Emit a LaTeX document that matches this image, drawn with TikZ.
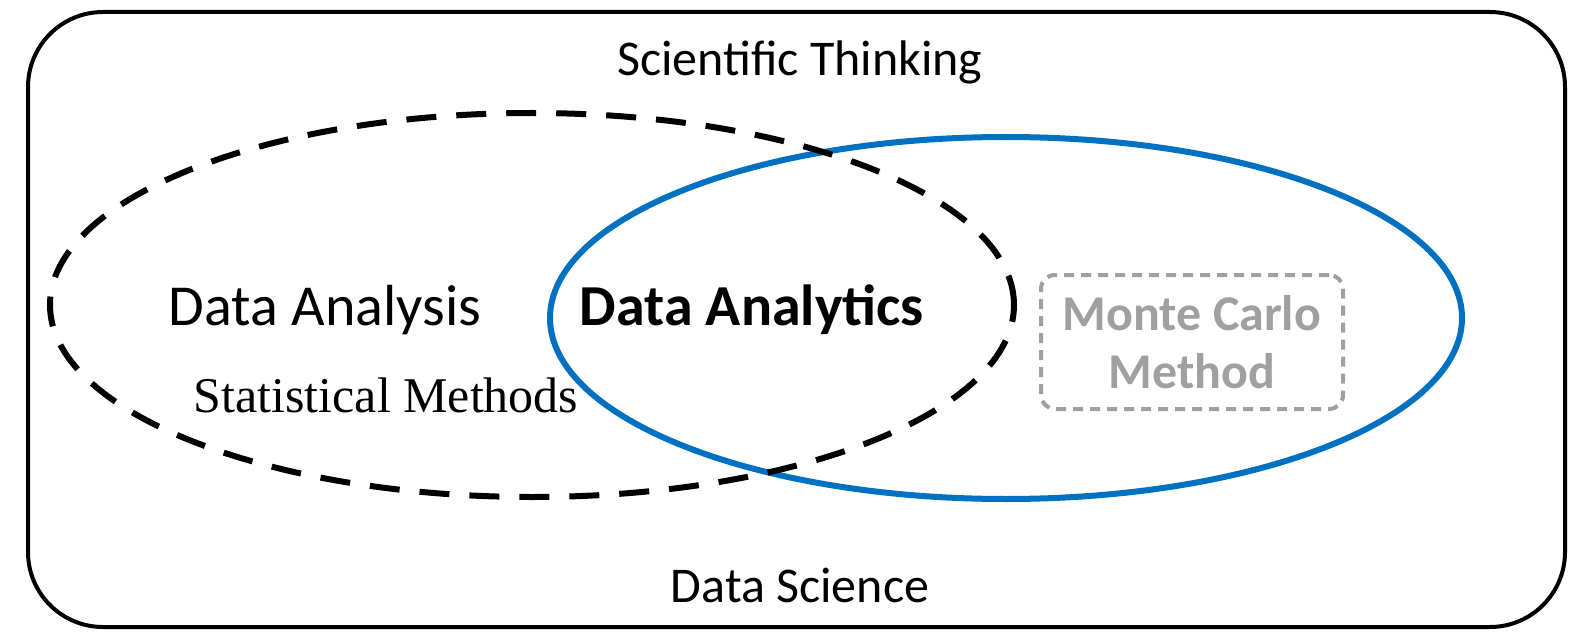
\documentclass[tikz,border=0pt]{standalone}
\usetikzlibrary{shapes.geometric}
\usepackage{fontspec}
\setmainfont{Carlito}
\newfontfamily\timesf{Liberation Serif}
\definecolor{msblue}{RGB}{0,112,192}
\definecolor{mcgray}{RGB}{160,160,160}
\begin{document}
\begin{tikzpicture}[x=1pt,y=-1pt,
  lbl/.style={inner sep=0pt,anchor=center},
  f/.style={font=\fontsize{#1}{#1}\selectfont}]
\useasboundingbox (0,0) rectangle (1582,639);
\draw[line width=4pt,rounded corners=75pt] (28,12) rectangle (1565,627);
\node[draw=msblue,line width=6pt,ellipse,minimum width=912pt,minimum height=362pt,inner sep=0pt] (blue) at (1006,318) {};
\draw[line width=6pt,dash pattern=on 30pt off 20pt] (532,305) ellipse [x radius=482pt,y radius=192pt];
\node[draw=mcgray,line width=4pt,dash pattern=on 10pt off 7pt,rounded corners=14pt,minimum width=302pt,minimum height=134pt,inner sep=0pt] (mc) at (1192,342) {};
\node[lbl,text=mcgray,font=\bfseries\fontsize{50}{58}\selectfont,align=center] at (mc) {Monte Carlo\\Method};
\node[lbl,f=50] (st) at (800,62) {Scientific Thinking};
\node[lbl,f=58] (da) at (325,310) {Data Analysis};
\node[lbl,font=\bfseries\fontsize{58}{58}\selectfont] (dan) at (752,310) {Data Analytics};
\node[lbl,font=\timesf\fontsize{50}{50}\selectfont] (sm) at (386,395) {Statistical Methods};
\node[lbl,f=50] (ds) at (800,585) {Data Science};
\end{tikzpicture}
\end{document}
